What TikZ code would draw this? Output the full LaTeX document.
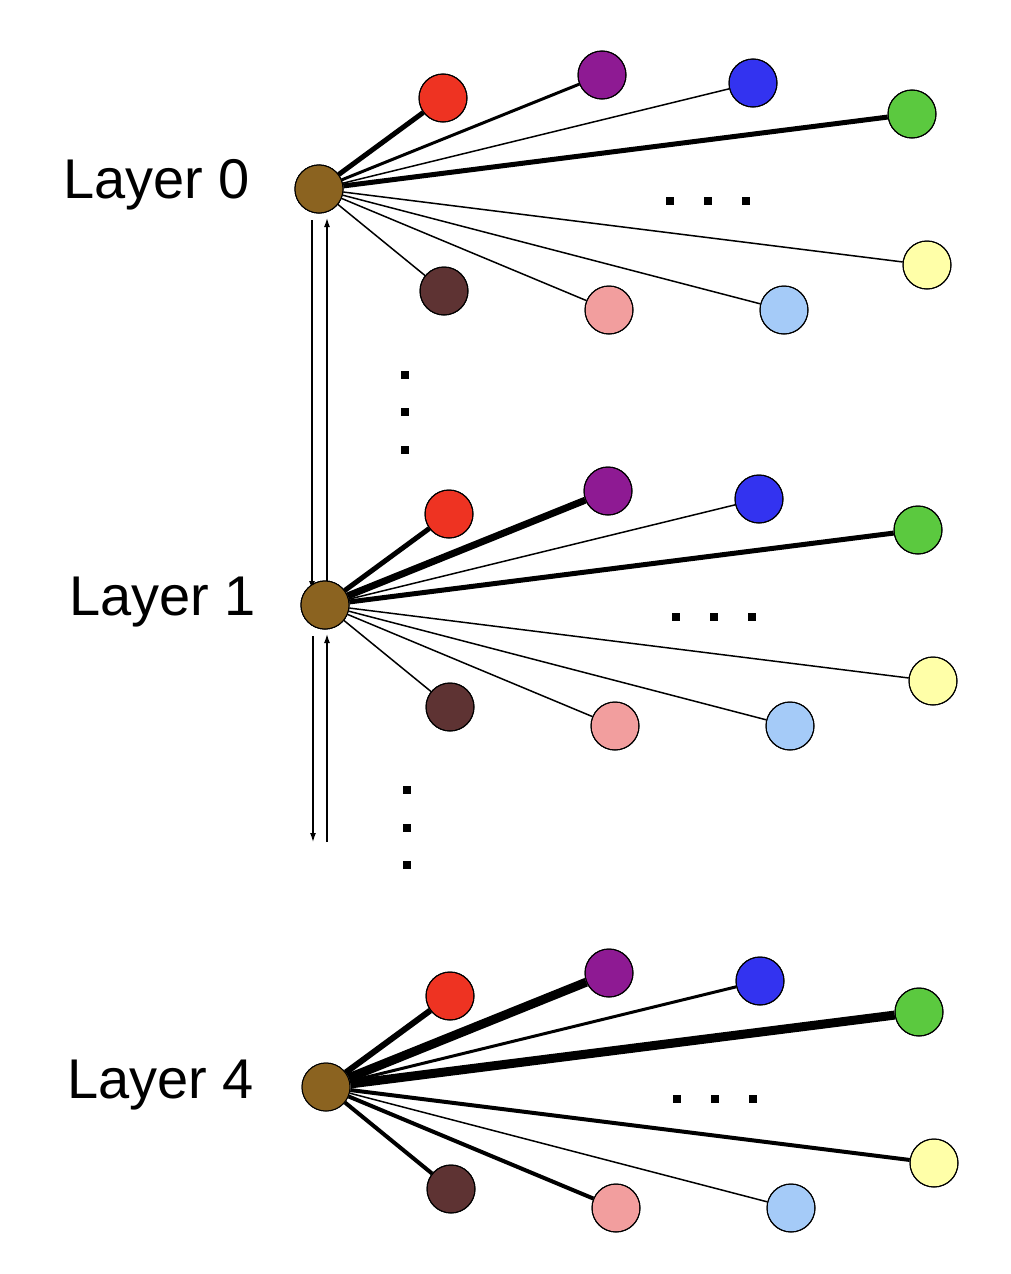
\documentclass[tikz,border=0pt]{standalone}
\usepackage{fontspec}
\setmainfont{Liberation Sans}
\usetikzlibrary{arrows.meta}
\definecolor{cR}{HTML}{EE3322}\definecolor{cP}{HTML}{8E1A93}\definecolor{cB}{HTML}{3333F0}
\definecolor{cG}{HTML}{5BC93F}\definecolor{cY}{HTML}{FFFFA8}\definecolor{cL}{HTML}{A5CBF8}
\definecolor{cK}{HTML}{F29E9E}\definecolor{cD}{HTML}{5E3333}\definecolor{cC}{HTML}{8B6320}
\begin{document}
\begin{tikzpicture}[x=1pt,y=-1pt,
  ball/.style={circle,draw=black,line width=1pt,minimum size=48pt,inner sep=0pt},
  lbl/.style={font=\fontsize{56}{60}\selectfont,inner sep=0pt},
  sq/.style={fill=black,minimum size=8pt,inner sep=0pt},
  arr/.style={line width=1.3pt,-{Latex[length=9pt,width=6pt]}}]
\useasboundingbox (0,0) rectangle (1010,1274);
\newcommand{\lay}[4]{% name, dx, dy, widths list
\begin{scope}[shift={(#2,#3)}]
\foreach \n/\x/\y/\c/\w [count=\i] in {r/443/98/cR/0,p/602/75/cP/0,b/753/83/cB/0,g/912/114/cG/0,y/927/265/cY/0,l/784/310/cL/0,k/609/310/cK/0,d/444/291/cD/0}
  \node[ball,fill=\c] (#1\n) at (\x,\y) {};
\node[ball,fill=cC] (#1c) at (319,189) {};
\end{scope}
\foreach \n/\w in {#4} \draw[line width=\w pt] (#1c) -- (#1\n);
\node[ball,fill=cC] at (#1c) {};
\foreach \n in {r,p,b,g,y,l,k,d} \node[ball,fill=none] at (#1\n) {};
\foreach \xx in {670,708,746} \node[sq] at ($(\xx,201)+(#2,#3)$) {};
}
\usetikzlibrary{calc}
\lay{a}{0}{0}{r/5,p/3,b/1.5,g/5,y/1.5,l/1.5,k/1.5,d/1.5}
\lay{m}{6}{416}{r/5,p/7,b/1.5,g/5,y/1.5,l/1.5,k/1.5,d/1.5}
\lay{z}{7}{898}{r/6,p/9,b/3,g/9,y/4,l/1.5,k/4,d/4}
\node[lbl,anchor=east] (t0) at (250,185) {Layer 0};
\node[lbl,anchor=east] (t1) at (256,602) {Layer 1};
\node[lbl,anchor=east] (t4) at (254,1085) {Layer 4};
\foreach \yy in {375,412,450} \node[sq] at (405,\yy) {};
\foreach \yy in {790,828,865} \node[sq] at (407,\yy) {};
\coordinate (u0) at (312,220); \coordinate (u1) at (312,590);
\coordinate (v0) at (327,218); \coordinate (v1) at (327,586);
\draw[arr] (u0) -- (u1);
\draw[arr] (v1) -- (v0);
\coordinate (w0) at (313,636); \coordinate (w1) at (313,842);
\coordinate (x0) at (327,634); \coordinate (x1) at (327,842);
\draw[arr] (w0) -- (w1);
\draw[arr] (x1) -- (x0);
\node[ball,fill=cC] at (ac) {};
\node[ball,fill=cC] at (mc) {};
\end{tikzpicture}
\end{document}
